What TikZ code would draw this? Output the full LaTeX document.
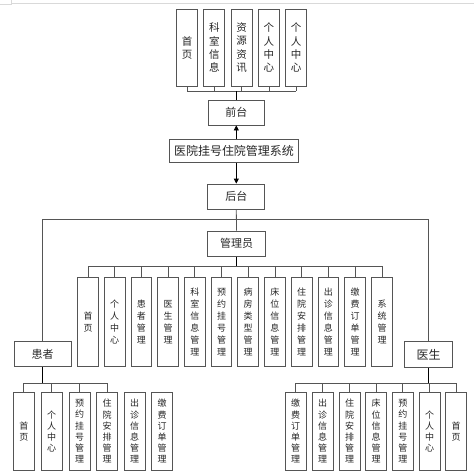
\documentclass[tikz,border=0pt]{standalone}
\usepackage{fontspec}
\newfontfamily\cjk{Noto Sans CJK SC}
\usetikzlibrary{arrows.meta}
\definecolor{boxgray}{HTML}{555555}
\definecolor{txt}{HTML}{262626}
\begin{document}
\begin{tikzpicture}[x=1pt,y=-1pt,
  box/.style={draw=boxgray, line width=0.8pt, fill=white, inner sep=0pt, align=center, text=txt},
  hbox/.style={box, font=\cjk\fontsize{11}{13}\selectfont},
  topbox/.style={box, minimum width=21pt, minimum height=76.7pt, font=\cjk\fontsize{10.5}{13.3}\selectfont},
  admbox/.style={box, minimum width=20.7pt, minimum height=89pt, font=\cjk\fontsize{9}{12}\selectfont},
  subbox/.style={box, minimum width=21pt, minimum height=77.3pt, font=\cjk\fontsize{9}{11.2}\selectfont},
  conn/.style={draw=boxgray, line width=0.8pt},
  trunk/.style={draw=black, line width=1.2pt},
  arr/.style={draw=black, line width=0.8pt, -{Triangle[length=5pt,width=5pt]}}
]
\useasboundingbox (0,0) rectangle (474,475);
% page edge marks
\draw[black!15, line width=0.6pt] (11,0) -- (11,4) -- (0,4);
\draw[black!15, line width=0.6pt] (12,3.3) -- (474,3.3);

% top children
\node[topbox] (t1) at (187,47.7) {首\\页};
\node[topbox] (t2) at (214.3,47.7) {科\\室\\信\\息};
\node[topbox] (t3) at (241.6,47.7) {资\\源\\资\\讯};
\node[topbox] (t4) at (268.9,47.7) {个\\人\\中\\心};
\node[topbox] (t5) at (296.2,47.7) {个\\人\\中\\心};

\node[hbox, minimum width=56pt, minimum height=25pt] (qian) at (236.3,112.5) {前台};
\node[box, font=\cjk\fontsize{12}{14}\selectfont, minimum width=129pt, minimum height=23pt] (sys) at (234,151) {医院挂号住院管理系统};
\node[hbox, minimum width=57pt, minimum height=25pt] (hou) at (236.3,196.5) {后台};
\node[hbox, minimum width=58pt, minimum height=25.5pt] (adm) at (236.5,243.7) {管理员};
\node[hbox, minimum width=57pt, minimum height=25pt] (pat) at (42.5,354.2) {患者};
\node[box, font=\cjk\fontsize{12}{14}\selectfont, minimum width=48.4pt, minimum height=25.6pt] (doc) at (428.5,354.5) {医生};

% top bus
\coordinate (tbus) at (236.3,91);
\foreach \i in {1,...,5} {\draw[conn] (t\i.south) -- (t\i.south |- tbus);}
\draw[conn] (t1.south |- tbus) -- (t5.south |- tbus);
\draw[trunk] (qian.north) -- (qian.north |- tbus);

% arrows
\draw[arr] (qian.south |- sys.north) -- (qian.south);
\draw[arr] (qian.south |- sys.south) -- (hou.north);

% big bus
\coordinate (bbus) at (236.3,219.3);
\draw[conn] (hou.south) -- (adm.north);
\draw[conn] (pat.north |- bbus) -- (doc.north |- bbus);
\draw[conn] (pat.north |- bbus) -- (pat.north);
\draw[conn] (doc.north |- bbus) -- (doc.north);

% admin children
\node[admbox] (a1) at (88,322.2) {首\\页};
\node[admbox] (a2) at (114.7,322.2) {个\\人\\中\\心};
\node[admbox] (a3) at (141.4,322.2) {患\\者\\管\\理};
\node[admbox] (a4) at (168.1,322.2) {医\\生\\管\\理};
\node[admbox] (a5) at (194.8,322.2) {科\\室\\信\\息\\管\\理};
\node[admbox] (a6) at (221.5,322.2) {预\\约\\挂\\号\\管\\理};
\node[admbox] (a7) at (248.2,322.2) {病\\房\\类\\型\\管\\理};
\node[admbox] (a8) at (274.9,322.2) {床\\位\\信\\息\\管\\理};
\node[admbox] (a9) at (301.6,322.2) {住\\院\\安\\排\\管\\理};
\node[admbox] (a10) at (328.3,322.2) {出\\诊\\信\\息\\管\\理};
\node[admbox] (a11) at (355.2,322.2) {缴\\费\\订\\单\\管\\理};
\node[admbox] (a12) at (382,322.2) {系\\统\\管\\理};
\coordinate (abus) at (236.5,266);
\foreach \i in {1,...,12} {\draw[conn] (a\i.north) -- (a\i.north |- abus);}
\draw[conn] (a1.north |- abus) -- (a12.north |- abus);
\draw[trunk] (adm.south) -- (adm.south |- abus);

% patient children
\node[subbox] (p1) at (23.8,431.3) {首\\页};
\node[subbox] (p2) at (51.7,431.3) {个\\人\\中\\心};
\node[subbox] (p3) at (79.5,431.3) {预\\约\\挂\\号\\管\\理};
\node[subbox] (p4) at (107.1,431.3) {住\\院\\安\\排\\管\\理};
\node[subbox] (p5) at (134.7,431.3) {出\\诊\\信\\息\\管\\理};
\node[subbox] (p6) at (162.2,431.3) {缴\\费\\订\\单\\管\\理};
\coordinate (pbus) at (42.7,383.3);
\foreach \i in {1,...,4} {\draw[conn] (p\i.north) -- (p\i.north |- pbus);}
\draw[conn] (p1.north |- pbus) -- (p4.north |- pbus);
\draw[trunk] (pat.south) -- (pat.south |- pbus);

% doctor children
\node[subbox] (d1) at (295.5,431.3) {缴\\费\\订\\单\\管\\理};
\node[subbox] (d2) at (322.6,431.3) {出\\诊\\信\\息\\管\\理};
\node[subbox] (d3) at (349.5,431.3) {住\\院\\安\\排\\管\\理};
\node[subbox] (d4) at (376.2,431.3) {床\\位\\信\\息\\管\\理};
\node[subbox] (d5) at (402.8,431.3) {预\\约\\挂\\号\\管\\理};
\node[subbox] (d6) at (429.5,431.3) {个\\人\\中\\心};
\node[subbox] (d7) at (456.2,431.3) {首\\页};
\coordinate (dbus) at (428.3,383.3);
\foreach \i in {1,...,7} {\draw[conn] (d\i.north) -- (d\i.north |- dbus);}
\draw[conn] (d1.north |- dbus) -- (d7.north |- dbus);
\draw[trunk] (doc.south) -- (doc.south |- dbus);
\end{tikzpicture}
\end{document}
